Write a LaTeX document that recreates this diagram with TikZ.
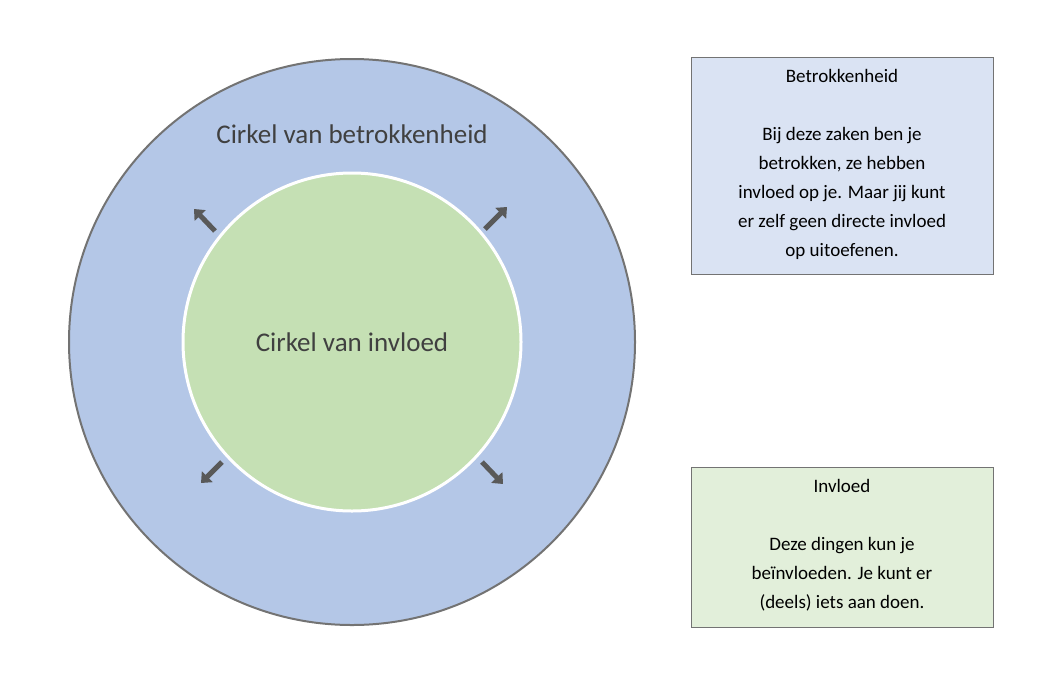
\documentclass[tikz,border=0pt]{standalone}
\usepackage{fontspec}
\setmainfont{Carlito}
\usetikzlibrary{arrows.meta}
\definecolor{outerc}{HTML}{B4C7E7}
\definecolor{innerc}{HTML}{C5E0B4}
\definecolor{boxb}{HTML}{DAE3F3}
\definecolor{boxg}{HTML}{E2EFDA}
\definecolor{txt}{HTML}{404040}
\definecolor{arr}{HTML}{595959}
\tikzset{x=1pt,y=-1pt,
 infobox/.style={draw=gray!90!black,line width=1.2pt,minimum width=302pt,anchor=north west,inner sep=0pt},
 boxtxt/.style={align=center,font=\fontsize{19}{29}\selectfont,text=black},
 growarrow/.style={arr,line width=5pt,-{Triangle[length=9pt,width=15pt]}}}
\begin{document}
\begin{tikzpicture}
\useasboundingbox (0,0) rectangle (1054,681);
\node[circle,draw=gray!90!black,line width=2pt,fill=outerc,minimum size=566pt,inner sep=0pt] (outer) at (352,342) {};
\node[circle,draw=white,line width=3pt,fill=innerc,minimum size=338pt,inner sep=0pt] (inner) at (352,342) {};
\node[text=txt,font=\fontsize{27}{32}\selectfont] (tb) at (352,134) {Cirkel van betrokkenheid};
\node[text=txt,font=\fontsize{27}{32}\selectfont] (ti) at (352,342) {Cirkel van invloed};
\coordinate (a1) at (215,231); \coordinate (b1) at (194,209);
\coordinate (a2) at (485,229); \coordinate (b2) at (507,207);
\coordinate (a3) at (222,462); \coordinate (b3) at (201,483);
\coordinate (a4) at (482,462); \coordinate (b4) at (503,484);
\draw[growarrow] (a1) -- (b1);
\draw[growarrow] (a2) -- (b2);
\draw[growarrow] (a3) -- (b3);
\draw[growarrow] (a4) -- (b4);
\node[infobox,fill=boxb,minimum height=217pt] (bx1) at (691,57) {};
\node[boxtxt,anchor=north] (t1) at (842,66) {Betrokkenheid\\[29pt]Bij deze zaken ben je\\betrokken, ze hebben\\invloed op je. Maar jij kunt\\er zelf geen directe invloed\\op uitoefenen.};
\node[infobox,fill=boxg,minimum height=160pt] (bx2) at (691,467) {};
\node[boxtxt,anchor=north] (t2) at (842,476) {Invloed\\[29pt]Deze dingen kun je\\beïnvloeden. Je kunt er\\(deels) iets aan doen.};
\end{tikzpicture}
\end{document}
